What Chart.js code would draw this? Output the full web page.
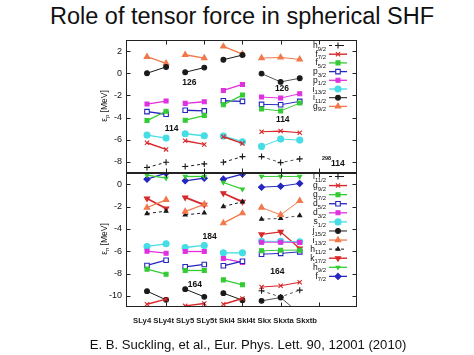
<!DOCTYPE html>
<html><head><meta charset="utf-8">
<script src="https://cdn.jsdelivr.net/npm/chart.js@4"></script>
<style>
html,body{margin:0;padding:0;background:#fff;}
#wrap{position:relative;width:474px;height:355px;overflow:hidden;background:#fff;}
canvas{position:absolute;left:0;top:0;}
.txt{position:absolute;font-family:"Liberation Sans",Arial,sans-serif;color:#111;white-space:nowrap;text-align:center;line-height:1;}
</style></head><body>
<div id="wrap">
<div class="txt" style="left:42px;top:5px;width:400px;font-size:23.5px;">Role of tensor force in spherical SHF</div>
<canvas id="cp" width="474" height="355"></canvas>
<canvas id="cn" width="474" height="355"></canvas>
<div class="txt" style="left:48px;top:338px;width:400px;font-size:13.1px;">E. B. Suckling, et al., Eur. Phys. Lett. 90, 12001 (2010)</div>
</div>
<script>
// ---------- DATA ----------
const forces = ['SLy4','SLy4t','SLy5','SLy5t','SkI4','SkI4t','Skx','Skxta','Skxtb'];
const forceGroups = [[0,1],[2,3],[4,5],[6,7,8]];
const yTicksProton = [-8,-6,-4,-2,0,2];
const yTicksNeutron = [-10,-8,-6,-4,-2,0];

// proton single-particle energies (MeV), 298114
const protonLabels = ['h9/2','f7/2','f5/2','p3/2','p1/2','i13/2','i11/2','g9/2'];
const p_h9_2  = [-8.51,-8.03,-8.42,-8.18,-8.03,-7.52,-7.52,-8.06,-7.73];
const p_f7_2  = [-6.27,-6.87,-6.09,-6.42,-5.73,-6.33,-5.28,-5.22,-5.37];
const p_f5_2  = [-4.27,-3.43,-4.24,-3.82,-2.84,-1.97,-3.22,-3.40,-2.69];
const p_p3_2  = [-3.46,-3.70,-3.34,-3.40,-2.48,-2.54,-2.81,-2.84,-2.54];
const p_p1_2  = [-2.78,-2.51,-2.72,-2.57,-1.55,-1.01,-2.15,-2.24,-1.85];
const p_i13_2 = [-5.58,-5.85,-5.46,-5.64,-5.67,-6.18,-6.60,-5.94,-6.03];
const p_i11_2 = [0.00,0.57,0.09,0.51,1.22,1.64,-0.03,-0.78,-0.45];
const p_g9_2  = [1.49,0.90,1.67,1.37,2.42,1.73,1.37,1.43,1.25];

// neutron single-particle energies (MeV)
const neutronLabels = ['i11/2','g9/2','g7/2','d5/2','d3/2','s1/2','j15/2','i13/2','h11/2','k17/2','h9/2','f7/2'];
const n_i11_2 = [null,null,null,null,null,null,-9.55,-10.10,-9.49];
const n_g9_2  = [-10.75,-10.30,-10.90,-10.69,-10.75,-10.24,-9.20,-9.10,-8.78];
const n_g7_2  = [-7.61,-8.06,-7.73,-7.73,-8.57,-9.01,-5.97,-5.91,-5.91];
const n_d5_2  = [-7.28,-6.81,-7.40,-7.19,-7.31,-6.90,-6.27,-6.20,-6.06];
const n_d3_2  = [-6.00,-6.18,-6.03,-6.03,-6.66,-7.01,-5.20,-5.20,-5.22];
const n_s1_2  = [-5.58,-5.34,-5.67,-5.49,-6.15,-6.15,-5.12,-5.12,-5.15];
const n_j15_2 = [-9.58,-10.36,-9.40,-10.09,-9.76,-10.39,-10.45,-10.15,-11.60];
const n_i13_2 = [-2.09,-1.40,-2.45,-1.80,-3.49,-2.60,-2.09,-2.75,-1.49];
const n_h11_2 = [-2.63,-2.42,-2.75,-2.57,-2.00,-1.58,-3.13,-3.07,-2.81];
const n_k17_2 = [-1.28,-2.18,-1.19,-1.85,-0.81,-1.58,-4.50,-4.27,-5.76];
const n_h9_2  = [0.81,0.54,0.69,0.69,0.15,-0.45,0.69,0.69,0.69];
const n_f7_2  = [0.45,0.98,0.30,0.54,0.45,0.90,-0.27,-0.18,0.06];

const protonValues = [p_h9_2,p_f7_2,p_f5_2,p_p3_2,p_p1_2,p_i13_2,p_i11_2,p_g9_2];
const neutronValues = [n_i11_2,n_g9_2,n_g7_2,n_d5_2,n_d3_2,n_s1_2,n_j15_2,n_i13_2,n_h11_2,n_k17_2,n_h9_2,n_f7_2];

// gap labels (text, x in force index units, y in MeV)
const protonNotes = [['126',2.22,-0.82],['126',7.07,-1.42],['114',7.11,-4.22],['114',1.29,-4.97]];
const neutronNotes = [['184',3.28,-4.70],['164',2.51,-9.01],['164',6.83,-7.83]];

// ---------- STYLES ----------
const COL = {black:'#1a1a1a', red:'#d8282a', green:'#33cc33', blue:'#2525c0', magenta:'#e030e0', cyan:'#45dde6', orange:'#f2784b'};
const protonStyles = [
  {c:COL.black, ps:'cross', r:3, dash:[3,3], w:1},
  {c:COL.red, ps:'crossRot', r:3, w:1.4},
  {c:COL.green, ps:'rect', r:2.8, w:1.3},
  {c:COL.blue, ps:'rect', r:3.2, fill:'#ffffff', w:1.3},
  {c:COL.magenta, ps:'rect', r:2.8, w:1.3},
  {c:COL.cyan, ps:'circle', r:3, w:1.3},
  {c:COL.black, ps:'circle', r:2.4, w:1},
  {c:COL.orange, ps:'triangle', r:3.2, w:1.3}
];
const neutronStyles = [
  {c:COL.black, ps:'cross', r:3, dash:[3,3], w:1},
  {c:COL.red, ps:'crossRot', r:3, w:1.4},
  {c:COL.green, ps:'rect', r:2.8, w:1.3},
  {c:COL.blue, ps:'rect', r:3.2, fill:'#ffffff', w:1.3},
  {c:COL.magenta, ps:'rect', r:2.8, w:1.3},
  {c:COL.cyan, ps:'circle', r:3, w:1.3},
  {c:COL.black, ps:'circle', r:2.4, w:1},
  {c:COL.orange, ps:'triangle', r:3.2, w:1.3},
  {c:COL.black, ps:'triangle', r:2.2, dash:[3,3], w:1},
  {c:COL.red, ps:'triangle', rot:180, r:3, w:1.8},
  {c:COL.green, ps:'triangle', rot:180, r:2.2, w:1.3},
  {c:COL.blue, ps:'rectRot', r:3, w:1.3}
];

function toPoints(vals){
  const pts = [];
  forceGroups.forEach(g => {
    g.forEach(i => pts.push({x:i, y:vals[i]}));
    pts.push({x:g[g.length-1]+0.5, y:null});
  });
  return pts;
}
function makeDatasets(labels, values, styles){
  return labels.map((lab,k) => {
    const s = styles[k];
    const w = s.w || 1.3;
    return {
      label: lab, data: toPoints(values[k]),
      borderColor: s.c, backgroundColor: s.fill || s.c,
      borderWidth: w, borderDash: s.dash || [],
      pointStyle: s.ps, pointRadius: s.r, pointRotation: s.rot || 0,
      pointBorderColor: s.c, pointBackgroundColor: s.fill || s.c, pointBorderWidth: 1.1,
      spanGaps: false, tension: 0,
      segment: { borderWidth: ctx => ctx.p0.parsed.x >= 6 ? w*0.75 : undefined }
    };
  });
}

function drawMarker(ctx, ds, x, y){
  ctx.save();
  ctx.setLineDash([]);
  ctx.fillStyle = ds.pointBackgroundColor; ctx.strokeStyle = ds.pointBorderColor; ctx.lineWidth = ds.pointBorderWidth;
  if (Chart.helpers && Chart.helpers.drawPoint){
    Chart.helpers.drawPoint(ctx, {pointStyle: ds.pointStyle, radius: ds.pointRadius, rotation: ds.pointRotation, borderWidth: ds.pointBorderWidth}, x, y);
  } else {
    ctx.beginPath(); ctx.arc(x,y,ds.pointRadius,0,Math.PI*2); ctx.fill(); ctx.stroke();
  }
  ctx.restore();
}
function subText(ctx, main, sub, x, y, align, fs){
  // draws main + subscript; returns width
  ctx.font = fs+'px "Liberation Sans", Arial, sans-serif';
  const w1 = ctx.measureText(main).width;
  ctx.font = (fs*0.7)+'px "Liberation Sans", Arial, sans-serif';
  const w2 = ctx.measureText(sub).width;
  const total = w1 + w2;
  let x0 = align === 'right' ? x - total : x;
  ctx.textAlign = 'left'; ctx.textBaseline = 'alphabetic';
  ctx.font = fs+'px "Liberation Sans", Arial, sans-serif';
  ctx.fillText(main, x0, y);
  ctx.font = (fs*0.7)+'px "Liberation Sans", Arial, sans-serif';
  ctx.fillText(sub, x0 + w1, y + fs*0.3);
  return total;
}

const deco = {
  id: 'deco',
  afterDraw(chart, args, o){
    const ctx = chart.ctx, a = chart.chartArea, xs = chart.scales.x, ys = chart.scales.y;
    ctx.save();
    ctx.strokeStyle = '#222'; ctx.lineWidth = 1; ctx.setLineDash([]);
    const L = Math.round(a.left)+0.5, R = Math.round(a.right)-0.5, T = Math.round(a.top)+0.5, B = Math.round(a.bottom)-0.5;
    ctx.strokeRect(L, T, R-L, B-T);
    ctx.beginPath();
    ys.ticks.forEach(t => {
      const py = Math.round(ys.getPixelForValue(t.value))+0.5;
      ctx.moveTo(L, py); ctx.lineTo(L+4, py);
      ctx.moveTo(R, py); ctx.lineTo(R-4, py);
    });
    [1,3,5,7,9].forEach(v => {
      const px = Math.round(xs.getPixelForValue(v))+0.5;
      ctx.moveTo(px, T); ctx.lineTo(px, T+4);
      ctx.moveTo(px, B); ctx.lineTo(px, B-4);
    });
    ctx.stroke();
    // legend
    ctx.fillStyle = '#111';
    chart.data.datasets.forEach((ds, i) => {
      const yy = o.legY0 + i*o.legStep;
      const lab = ds.label;
      subText(ctx, lab[0], lab.slice(1), 326, yy+3, 'right', 8.5);
      ctx.save();
      ctx.strokeStyle = ds.borderColor; ctx.lineWidth = Math.min(ds.borderWidth,1.4);
      ctx.setLineDash(ds.borderDash || []);
      ctx.beginPath(); ctx.moveTo(329, yy+0.5); ctx.lineTo(347, yy+0.5); ctx.stroke();
      ctx.restore();
      drawMarker(ctx, ds, 338, yy+0.5);
    });
    // notes
    ctx.fillStyle = '#111';
    ctx.font = 'bold 8.5px "Liberation Sans", Arial, sans-serif';
    ctx.textAlign = 'center'; ctx.textBaseline = 'middle';
    o.notes.forEach(n => ctx.fillText(n[0], xs.getPixelForValue(n[1]), ys.getPixelForValue(n[2])));
    if (o.nucleus){
      const px = xs.getPixelForValue(o.nucleus.x), py = ys.getPixelForValue(o.nucleus.y);
      ctx.font = 'bold 8.5px "Liberation Sans", Arial, sans-serif';
      ctx.fillText(o.nucleus.z, px, py);
      const w = ctx.measureText(o.nucleus.z).width;
      ctx.font = 'bold 5.5px "Liberation Sans", Arial, sans-serif';
      ctx.textAlign = 'right';
      ctx.fillText(o.nucleus.a, px - w/2, py - 4.5);
    }
    // y title (rotated, with subscript)
    ctx.save();
    ctx.translate(o.yTitle.cx, o.yTitle.cy);
    ctx.rotate(-Math.PI/2);
    ctx.font = '8.5px "Liberation Sans", Arial, sans-serif';
    const wE = ctx.measureText('ε').width, wR = ctx.measureText(' [MeV]').width;
    ctx.font = '6px "Liberation Sans", Arial, sans-serif';
    const wS = ctx.measureText(o.yTitle.sub).width;
    const tot = wE + wS + wR;
    let x0 = -tot/2;
    ctx.textAlign = 'left'; ctx.textBaseline = 'middle'; ctx.fillStyle = '#111';
    ctx.font = '8.5px "Liberation Sans", Arial, sans-serif';
    ctx.fillText('ε', x0, 0);
    ctx.font = '6px "Liberation Sans", Arial, sans-serif';
    ctx.fillText(o.yTitle.sub, x0 + wE, 2.5);
    ctx.font = '8.5px "Liberation Sans", Arial, sans-serif';
    ctx.fillText(' [MeV]', x0 + wE + wS, 0);
    ctx.restore();
    // force names under lower panel
    if (o.forceLine){
      const s = forces.join(' ');
      let fs = 7.5;
      ctx.font = 'bold '+fs+'px "Liberation Sans", Arial, sans-serif';
      const w = ctx.measureText(s).width;
      fs = fs * 184 / w;
      ctx.font = 'bold '+fs.toFixed(2)+'px "Liberation Sans", Arial, sans-serif';
      ctx.textAlign = 'center'; ctx.textBaseline = 'alphabetic'; ctx.fillStyle = '#222';
      ctx.fillText(s, o.forceLine.cx, o.forceLine.y);
    }
    ctx.restore();
  }
};

function makeOptions(ymin, ymax, ticksArr, padTop, padBottom, decoOpts){
  return {
    responsive: false, animation: false, devicePixelRatio: 1,
    layout: {padding: {left: 0, right: 117, top: padTop, bottom: padBottom}},
    plugins: {legend: {display: false}, tooltip: {enabled: false}, deco: decoOpts},
    scales: {
      x: {type: 'linear', min: -1.1, max: 11, display: false},
      y: {
        type: 'linear', min: ymin, max: ymax,
        afterFit(s){ s.width = 126; },
        afterBuildTicks(s){ s.ticks = ticksArr.map(v => ({value: v})); },
        grid: {display: false, drawTicks: false}, border: {display: false},
        ticks: {padding: 4, color: '#111', font: {family: 'Liberation Sans', size: 9}}
      }
    }
  };
}

new Chart(document.getElementById('cp'), {
  type: 'line',
  data: {datasets: makeDatasets(protonLabels, protonValues, protonStyles)},
  options: makeOptions(-9, 3, yTicksProton, 40, 182, {
    legY0: 45, legStep: 8.7, notes: protonNotes,
    nucleus: {a: '298', z: '114', x: 10.0, y: -8.13},
    yTitle: {sub: 'p', cx: 105, cy: 106}
  }),
  plugins: [deco]
});
new Chart(document.getElementById('cn'), {
  type: 'line',
  data: {datasets: makeDatasets(neutronLabels, neutronValues, neutronStyles)},
  options: makeOptions(-11, 1, yTicksNeutron, 173, 48, {
    legY0: 176, legStep: 9.08, notes: neutronNotes,
    yTitle: {sub: 'n', cx: 105, cy: 239},
    forceLine: {cx: 225, y: 322.5}
  }),
  plugins: [deco]
});
</script>
</body></html>
